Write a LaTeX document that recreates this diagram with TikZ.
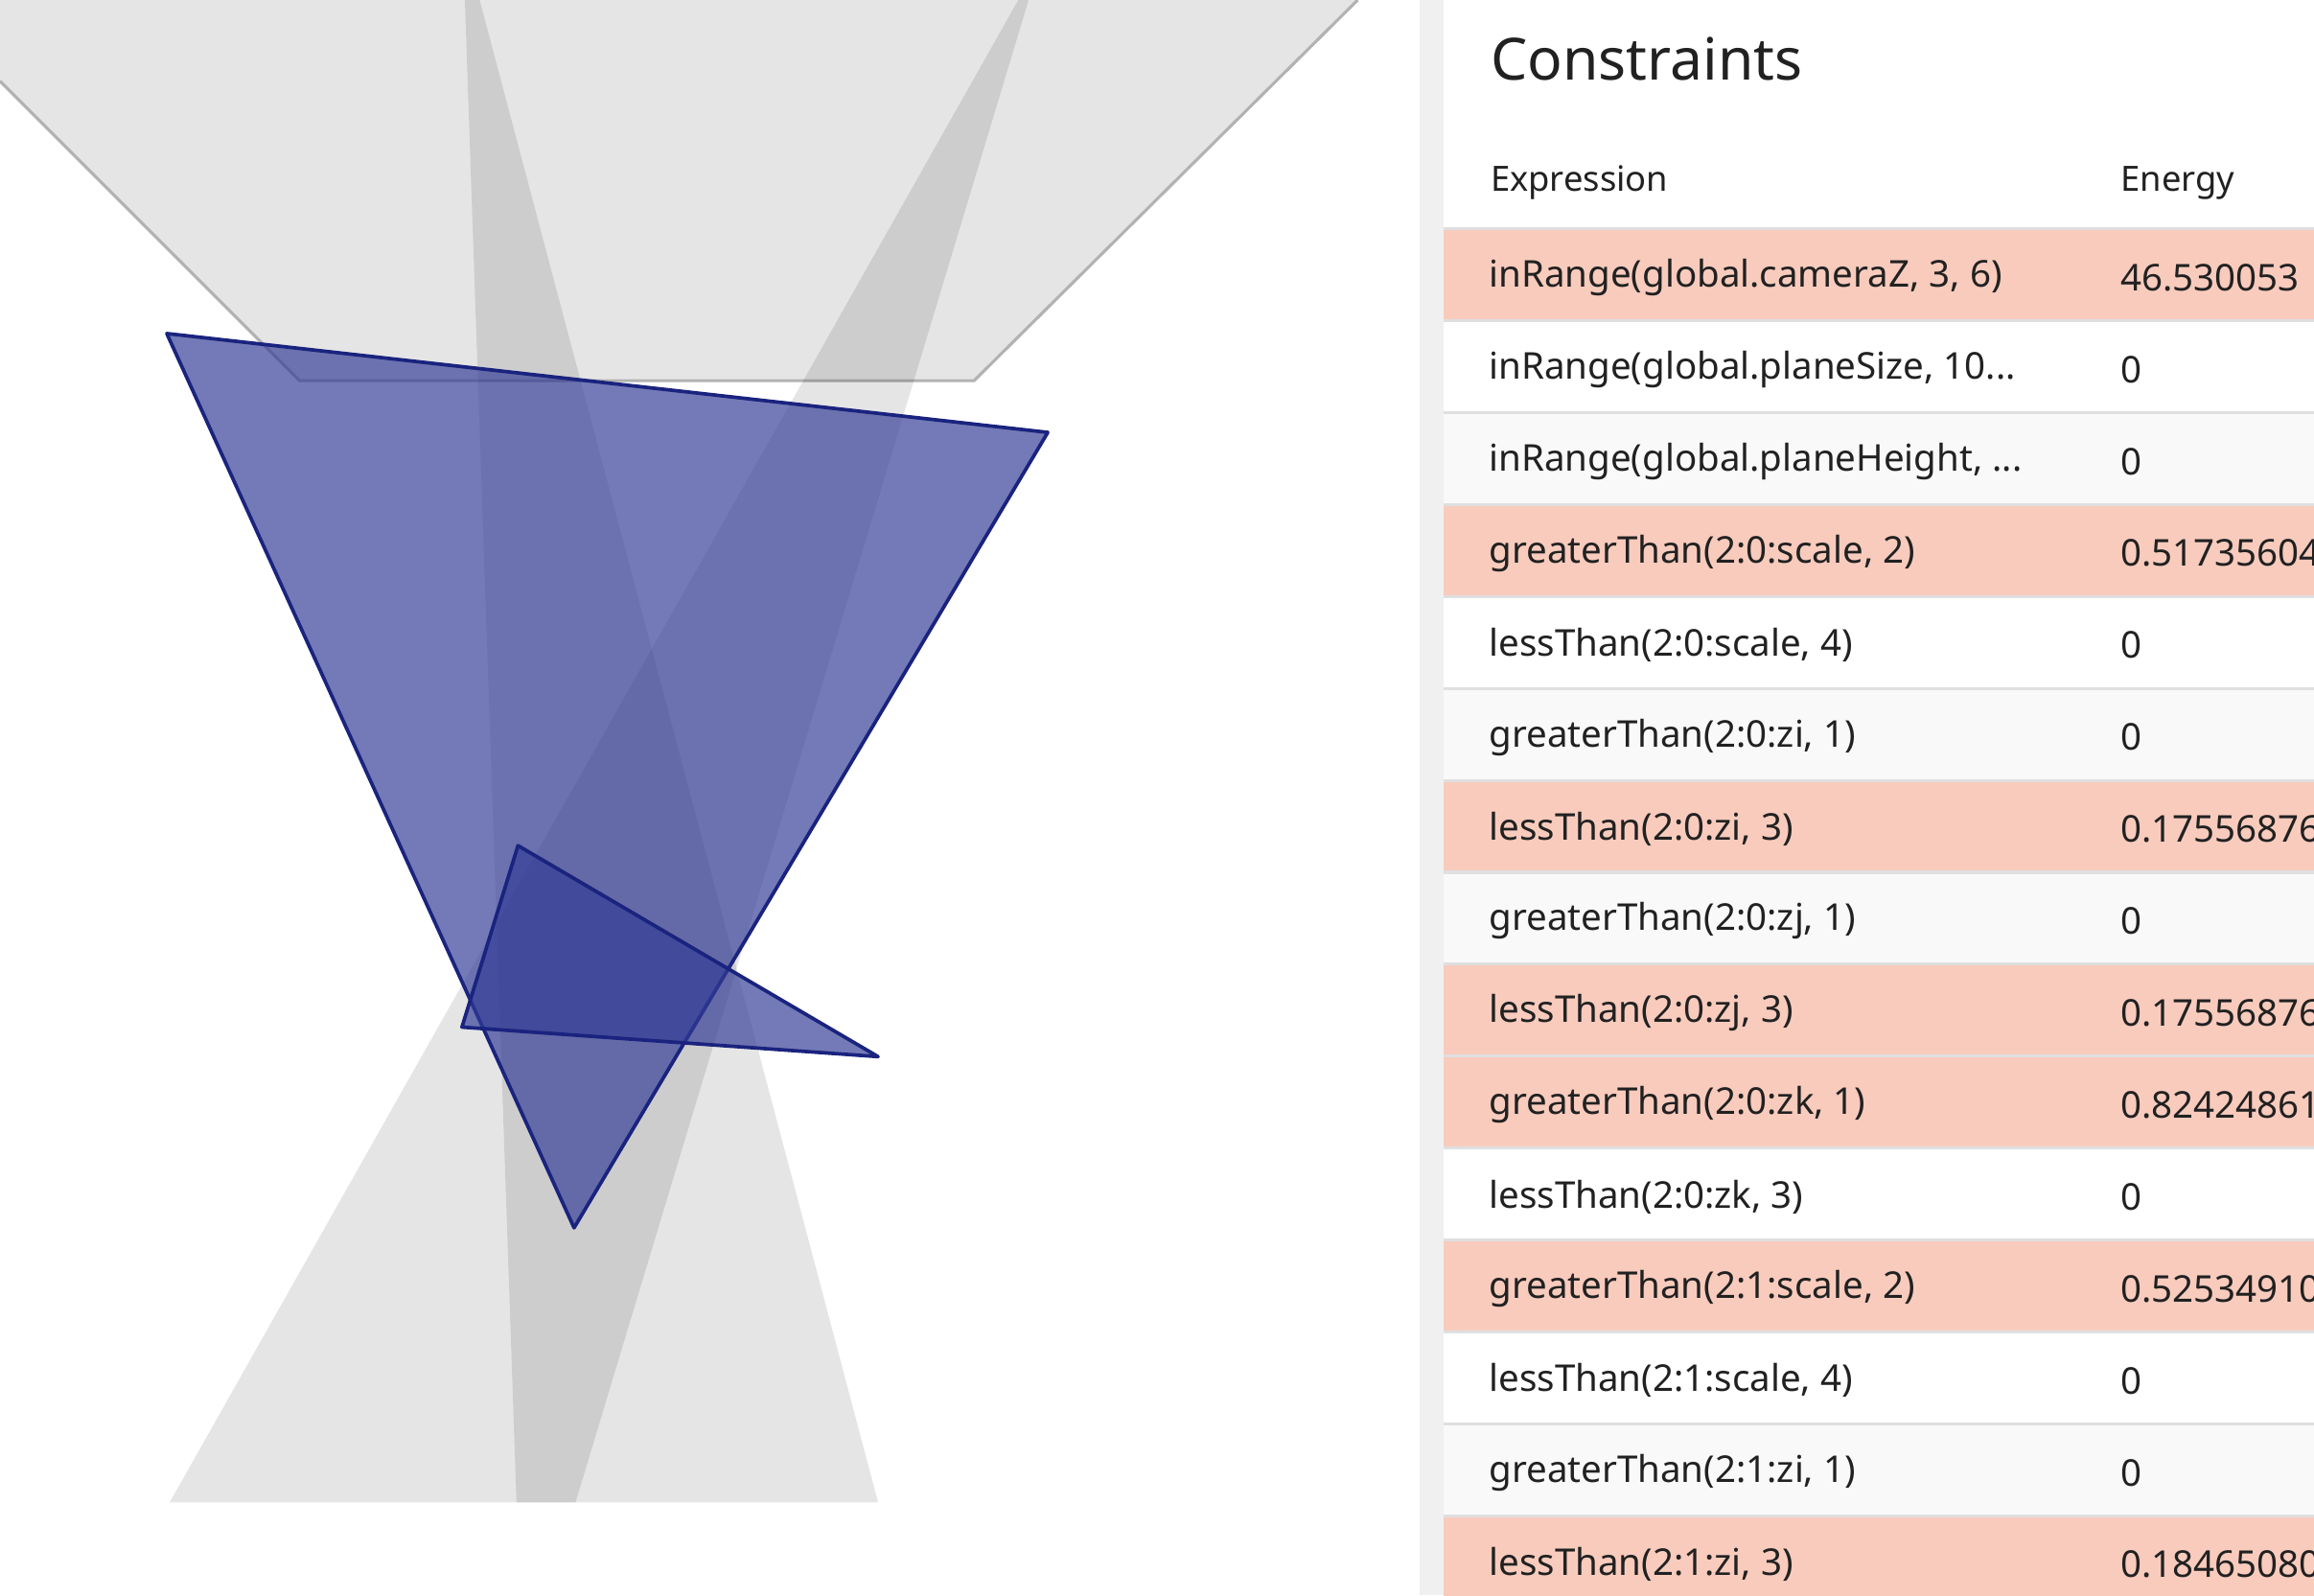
\documentclass[tikz,border=0pt]{standalone}
\usepackage{fontspec}
\setmainfont{Noto Sans}
\begin{document}
\begin{tikzpicture}[x=0.5pt,y=-0.5pt,
  shade/.style={fill=black,fill opacity=0.1,draw=none},
  tri/.style={fill={rgb,255:red,50;green,60;blue,150},fill opacity=0.68,draw={rgb,255:red,26;green,35;blue,126},line width=1.2pt,line join=round},
  hi/.style={fill={rgb,255:red,248;green,203;blue,189}},
  lt/.style={fill={rgb,255:red,249;green,249;blue,249}},
  wh/.style={fill=white},
  rowtxt/.style={anchor=west,font=\fontsize{12.5}{14}\selectfont,text={rgb,255:red,33;green,33;blue,33}}]
\useasboundingbox (0,0) rectangle (1568,1081);
\fill[white] (0,0) rectangle (1568,1081);
% gray shapes
\path[shade] (0,0) -- (920,0) -- (660,258) -- (203,258) -- (0,55) -- cycle;
\draw[gray!60,line width=1pt] (0,55) -- (203,258) -- (660,258) -- (920,0);
\path[shade] (315,0) -- (325,0) -- (595,1018) -- (350,1018) -- cycle;
\path[shade] (690,0) -- (697,0) -- (390,1018) -- (115,1018) -- cycle;
% blue triangles
\path[tri] (113,226) -- (710,293) -- (389,832) -- cycle;
\path[tri] (351,573) -- (595,716) -- (313,696) -- cycle;
% panel
\fill[gray!12] (962,0) rectangle (978,1081);
\node[anchor=west,font=\fontsize{19.7}{24}\selectfont,text={rgb,255:red,33;green,33;blue,33}] (title) at (1003,40) {Constraints};
\node[rowtxt,font=\fontsize{11.8}{14}\selectfont] (h1) at (1003,124) {Expression};
\node[rowtxt,font=\fontsize{11.8}{14}\selectfont] (h2) at (1430,124) {Energy};
\begin{scope}
\clip (978,0) rectangle (1568,1081);
\foreach \i/\e/\v/\s in {
 0/{inRange(global.cameraZ, 3, 6)}/46.530053/hi,
 1/{inRange(global.planeSize, 10...}/0/wh,
 2/{inRange(global.planeHeight, ...}/0/lt,
 3/{greaterThan(2:0:scale, 2)}/0.51735604/hi,
 4/{lessThan(2:0:scale, 4)}/0/wh,
 5/{greaterThan(2:0:zi, 1)}/0/lt,
 6/{lessThan(2:0:zi, 3)}/0.17556876/hi,
 7/{greaterThan(2:0:zj, 1)}/0/lt,
 8/{lessThan(2:0:zj, 3)}/0.17556876/hi,
 9/{greaterThan(2:0:zk, 1)}/0.82424861/hi,
 10/{lessThan(2:0:zk, 3)}/0/wh,
 11/{greaterThan(2:1:scale, 2)}/0.52534910/hi,
 12/{lessThan(2:1:scale, 4)}/0/wh,
 13/{greaterThan(2:1:zi, 1)}/0/lt,
 14/{lessThan(2:1:zi, 3)}/0.18465080/hi}{
  \path[\s] (978,155+62.3*\i) rectangle (1568,155+62.3*\i+62.3);
  \draw[gray!25,line width=1pt] (978,155+62.3*\i) -- (1568,155+62.3*\i);
  \node[rowtxt] (e\i) at (1002,188+62.3*\i) {\e};
  \node[rowtxt] (v\i) at (1430,188+62.3*\i) {\v};
}
\end{scope}
\end{tikzpicture}
\end{document}
